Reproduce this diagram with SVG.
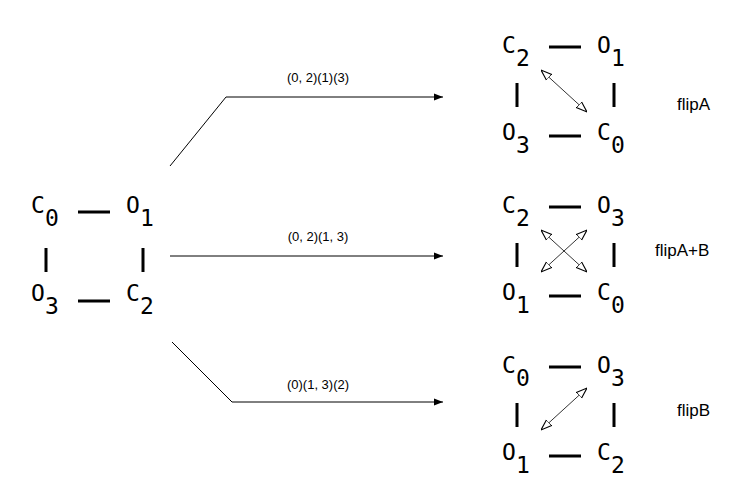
<svg xmlns="http://www.w3.org/2000/svg" width="749" height="501" viewBox="0 0 749 501">
<defs>
<style>
.m{font-family:"DejaVu Sans Mono",monospace;font-size:23px;fill:#000}
.b{stroke:#000;stroke-width:3}
.c{stroke:#000;stroke-width:1;fill:none}
.l{font-family:"Liberation Sans",Arial,sans-serif;font-size:13px;text-anchor:middle}
.f{font-family:"Liberation Sans",Arial,sans-serif;font-size:17px}
.d{stroke:#000;stroke-width:0.8;marker-start:url(#o);marker-end:url(#o)}
</style>
<marker id="a" viewBox="0 0 10 10" refX="10" refY="5" markerWidth="9" markerHeight="9" markerUnits="userSpaceOnUse" orient="auto"><path d="M0,1L10,5L0,9z" fill="#000"/></marker>
<marker id="o" viewBox="0 0 10 10" refX="10" refY="5" markerWidth="11" markerHeight="11" markerUnits="userSpaceOnUse" orient="auto-start-reverse"><path d="M0,1.5L10,5L0,8.5z" fill="#fff" stroke="#000" stroke-width="1"/></marker>
<g id="sq">
<path class="b" d="M78,-2H110M78,87H110M46,34V58M143,34V58"/>
</g>
</defs>
<g id="n-left">
<use href="#sq" x="0" y="214"/>
<text class="m" x="31" y="213">C</text><text class="m" x="45" y="226">0</text>
<text class="m" x="126" y="213">O</text><text class="m" x="140" y="226">1</text>
<text class="m" x="31" y="301">O</text><text class="m" x="45" y="314">3</text>
<text class="m" x="126" y="301">C</text><text class="m" x="140" y="314">2</text>
</g>
<g id="n-flipA">
<use href="#sq" x="471" y="49"/>
<text class="m" x="502" y="53">C</text><text class="m" x="516" y="66">2</text>
<text class="m" x="597" y="53">O</text><text class="m" x="611" y="66">1</text>
<text class="m" x="502" y="140">O</text><text class="m" x="516" y="153">3</text>
<text class="m" x="597" y="140">C</text><text class="m" x="611" y="153">0</text>
<line class="d" x1="541" y1="70" x2="587" y2="112"/>
<text class="f" x="677" y="110">flipA</text>
</g>
<g id="n-flipAB">
<use href="#sq" x="471" y="209"/>
<text class="m" x="502" y="213">C</text><text class="m" x="516" y="226">2</text>
<text class="m" x="597" y="213">O</text><text class="m" x="611" y="226">3</text>
<text class="m" x="502" y="300">O</text><text class="m" x="516" y="313">1</text>
<text class="m" x="597" y="300">C</text><text class="m" x="611" y="313">0</text>
<line class="d" x1="541" y1="230" x2="587" y2="272"/>
<line class="d" x1="587" y1="230" x2="541" y2="272"/>
<text class="f" x="655" y="256">flipA+B</text>
</g>
<g id="n-flipB">
<use href="#sq" x="471" y="369"/>
<text class="m" x="502" y="373">C</text><text class="m" x="516" y="386">0</text>
<text class="m" x="597" y="373">O</text><text class="m" x="611" y="386">3</text>
<text class="m" x="502" y="460">O</text><text class="m" x="516" y="473">1</text>
<text class="m" x="597" y="460">C</text><text class="m" x="611" y="473">2</text>
<line class="d" x1="541" y1="430" x2="587" y2="388"/>
<text class="f" x="677" y="416">flipB</text>
</g>
<g id="connectors">
<path class="c" d="M170,166L226,97H443" marker-end="url(#a)"/>
<path class="c" d="M170,256H443" marker-end="url(#a)"/>
<path class="c" d="M172,342L232,402H443" marker-end="url(#a)"/>
<text class="l" x="318" y="82">(0, 2)(1)(3)</text>
<text class="l" x="318" y="241">(0, 2)(1, 3)</text>
<text class="l" x="318" y="389">(0)(1, 3)(2)</text>
</g>
</svg>
